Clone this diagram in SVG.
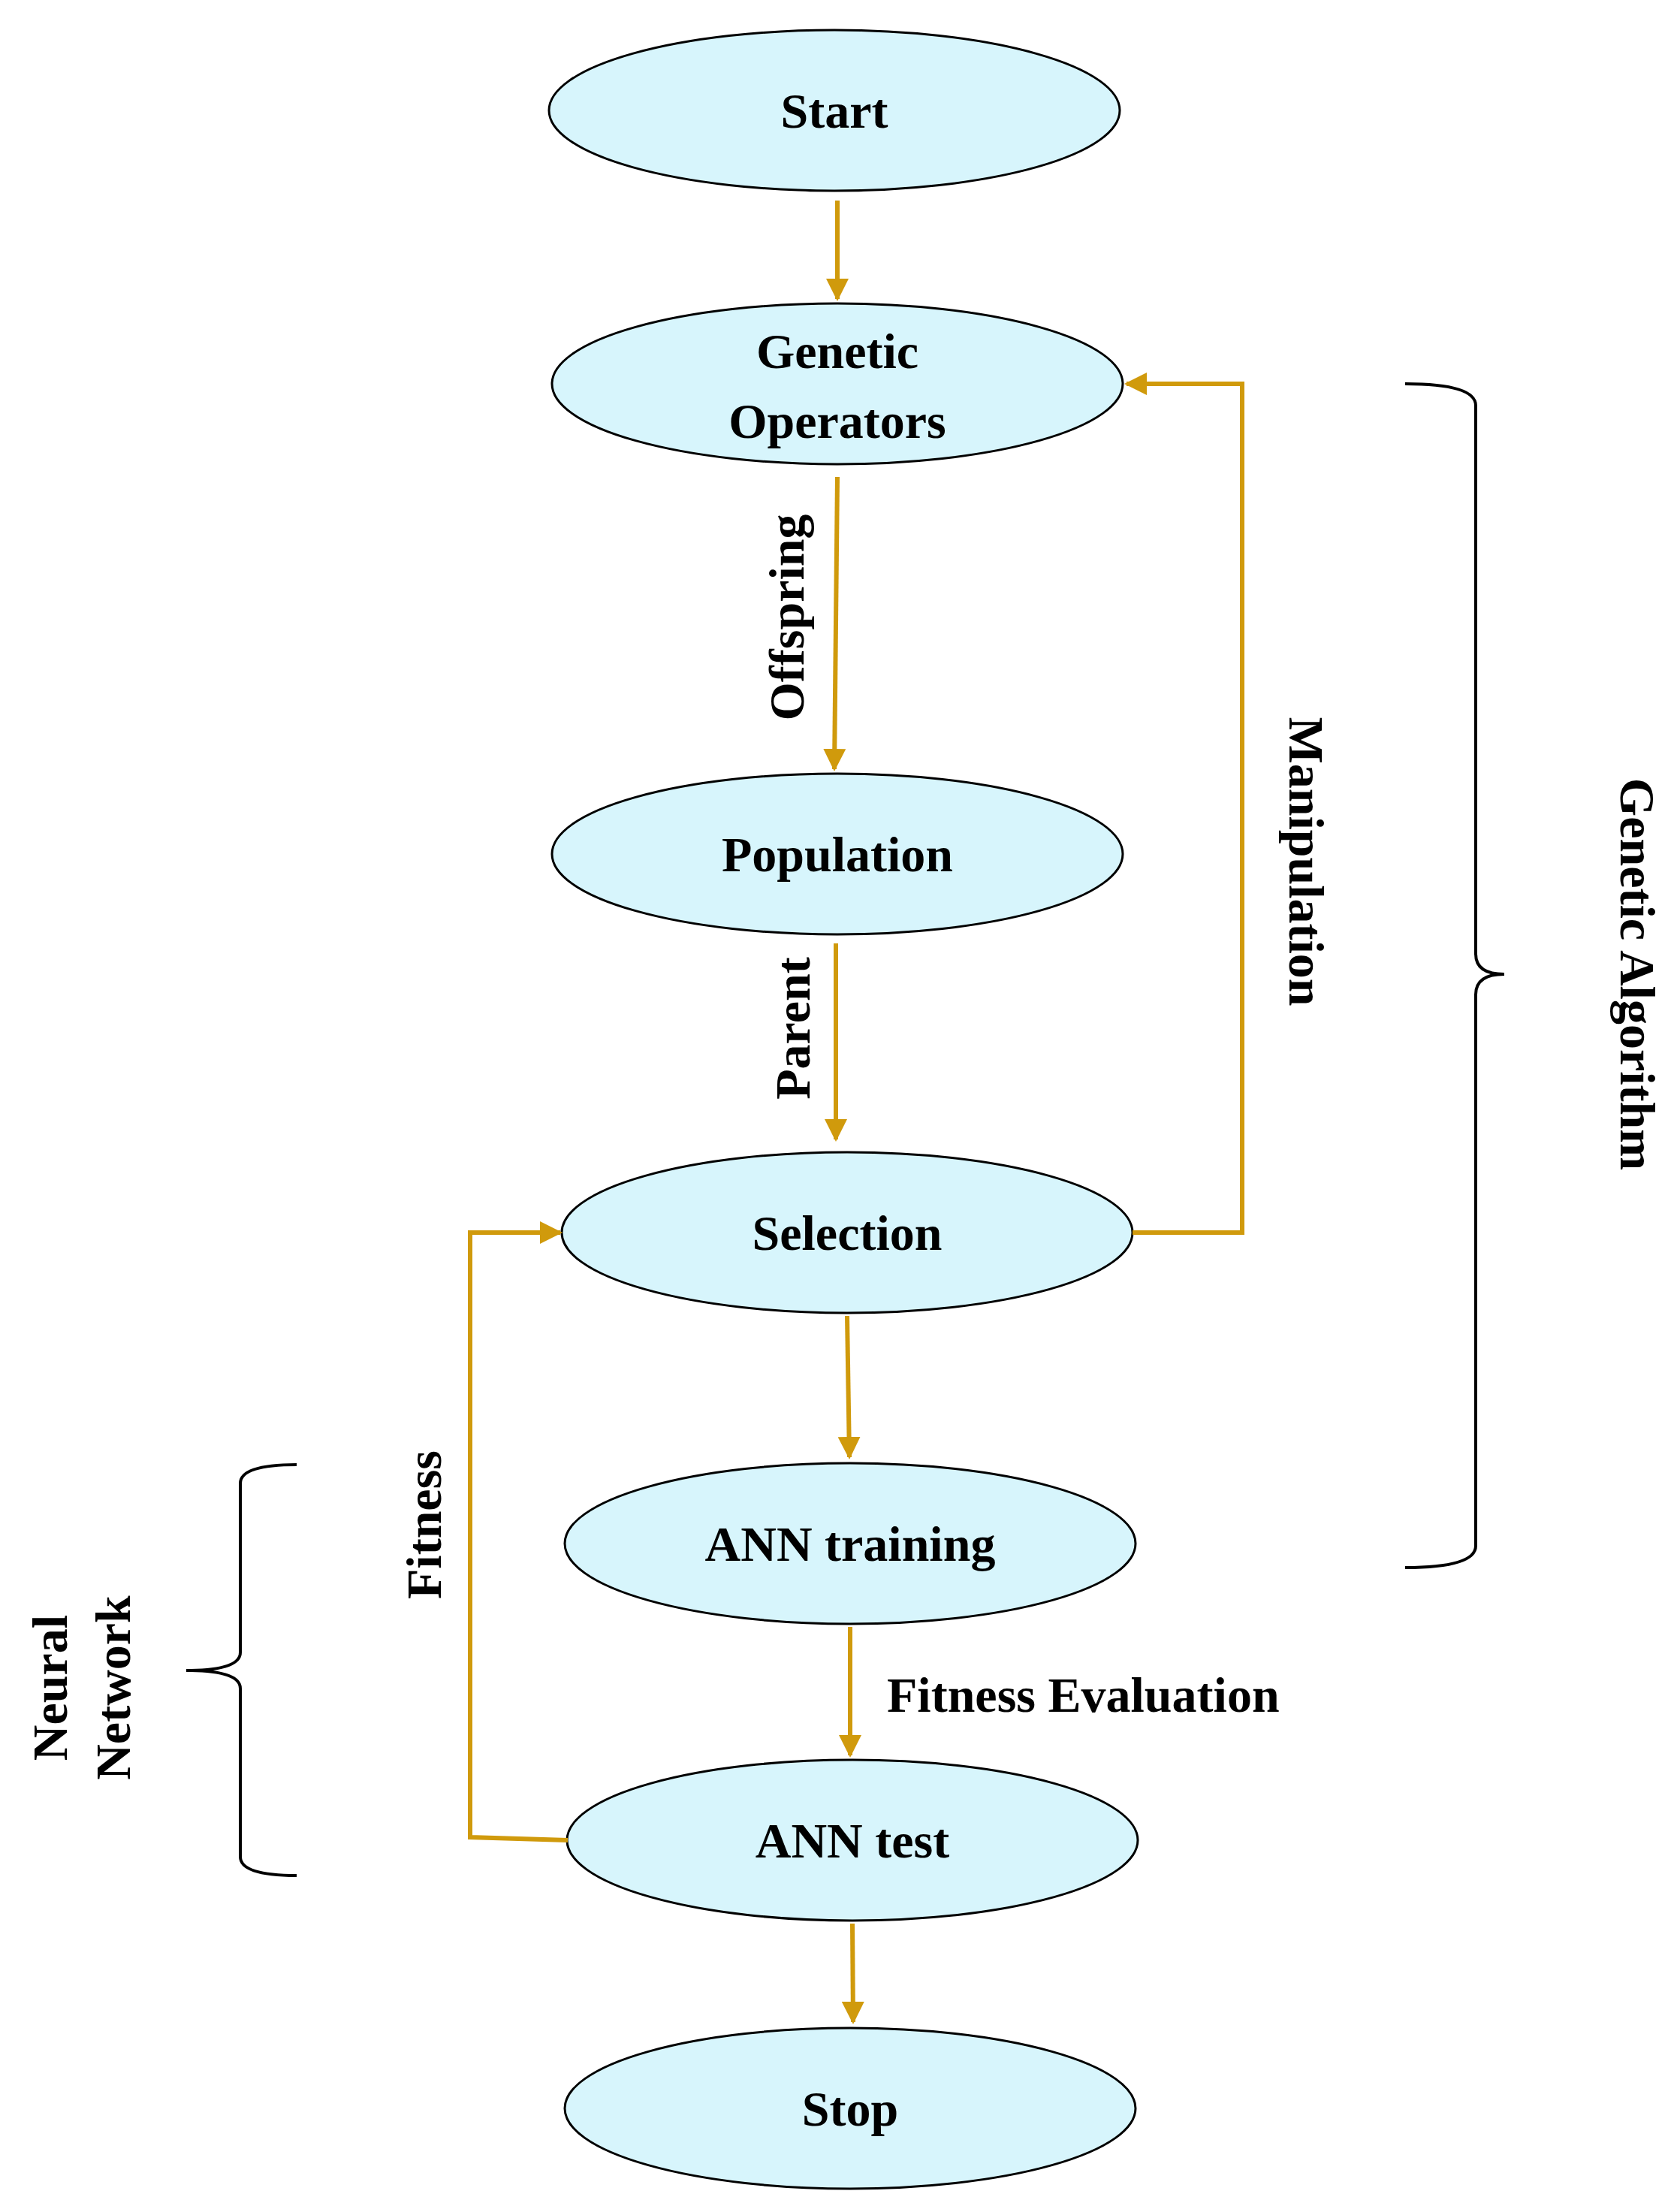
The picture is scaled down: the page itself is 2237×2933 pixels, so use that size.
<svg xmlns="http://www.w3.org/2000/svg" width="2237" height="2933" viewBox="0 0 2237 2933">
<defs>
<style>
.n ellipse{fill:#D7F5FC;stroke:#000;stroke-width:3}
text{font-family:"Liberation Serif",serif;font-weight:bold;font-size:66px;fill:#000}
.c{text-anchor:middle}
.w path{fill:none;stroke:#D09A0C;stroke-width:6}
.b{fill:none;stroke:#000;stroke-width:4}
</style>
<marker id="a" viewBox="0 0 10 10" refX="9" refY="5" markerWidth="5" markerHeight="5" orient="auto"><path d="M0,0L10,5L0,10z" fill="#D09A0C"/></marker>
</defs>
<rect width="2237" height="2933" fill="#fff"/>
<g id="start" class="n"><ellipse cx="1111" cy="147" rx="380" ry="107"/><text class="c" x="1111" y="170">Start</text></g>
<g id="genop" class="n"><ellipse cx="1115" cy="511" rx="380" ry="107"/><text class="c" x="1115" y="490">Genetic</text><text class="c" x="1115" y="583">Operators</text></g>
<g id="pop" class="n"><ellipse cx="1115" cy="1137" rx="380" ry="107"/><text class="c" x="1115" y="1160">Population</text></g>
<g id="sel" class="n"><ellipse cx="1128" cy="1641" rx="380" ry="107"/><text class="c" x="1128" y="1664">Selection</text></g>
<g id="anntr" class="n"><ellipse cx="1132" cy="2055" rx="380" ry="107"/><text class="c" x="1132" y="2078">ANN training</text></g>
<g id="anntest" class="n"><ellipse cx="1135" cy="2450" rx="380" ry="107"/><text class="c" x="1135" y="2473">ANN test</text></g>
<g id="stop" class="n"><ellipse cx="1132" cy="2807" rx="380" ry="107"/><text class="c" x="1132" y="2830">Stop</text></g>
<g id="connectors" class="w">
<path d="M1115,267V398" marker-end="url(#a)"/>
<path d="M1115,635L1111,1024" marker-end="url(#a)"/>
<path d="M1113,1256V1517" marker-end="url(#a)"/>
<path d="M1128,1752L1131,1940" marker-end="url(#a)"/>
<path d="M1132,2166V2337" marker-end="url(#a)"/>
<path d="M1135,2561L1136,2692" marker-end="url(#a)"/>
<path d="M1508,1641H1654V511H1500" marker-end="url(#a)"/>
<path d="M756,2450L626,2446V1641H746" marker-end="url(#a)"/>
</g>
<g id="labels">
<text class="c" transform="translate(1070,822) rotate(-90)">Offspring</text>
<text class="c" transform="translate(1078,1369) rotate(-90)">Parent</text>
<text class="c" transform="translate(1717,1147) rotate(90)">Manipulation</text>
<text class="c" transform="translate(2158,1297) rotate(90)">Genetic Algorithm</text>
<text class="c" transform="translate(587,2030) rotate(-90)">Fitness</text>
<text x="1181" y="2279">Fitness Evaluation</text>
<text class="c" transform="translate(89,2247) rotate(-90)">Neural</text>
<text class="c" transform="translate(173,2247) rotate(-90)">Network</text>
</g>
<g id="braces">
<path class="b" d="M1871,511Q1965,511 1965,540V1270Q1965,1297 2003,1297Q1965,1297 1965,1324V2058Q1965,2087 1871,2087"/>
<path class="b" d="M395,1950Q320,1950 320,1975V2200Q320,2224 248,2224Q320,2224 320,2248V2472Q320,2497 395,2497"/>
</g>
</svg>
